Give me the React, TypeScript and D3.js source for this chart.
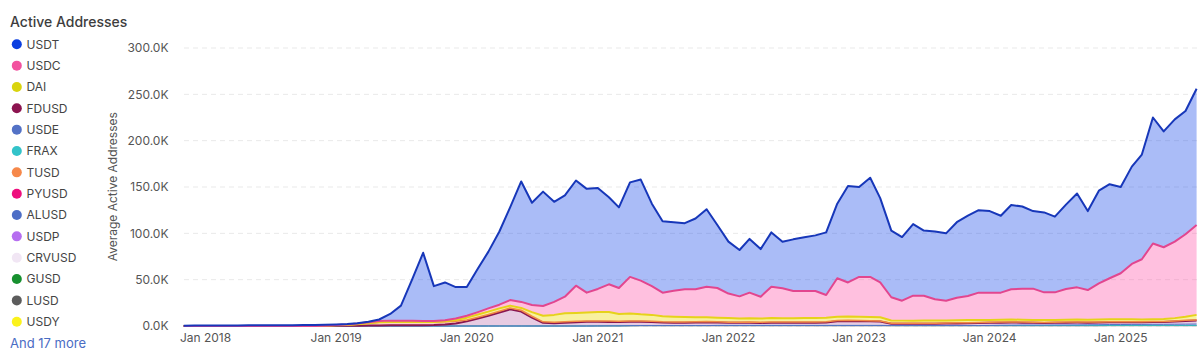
import React from "react";
import * as d3 from "d3";

// Monthly data, Nov 2017 .. Aug 2025 (values in thousands of addresses)
const START = new Date(2017, 10, 1);
const END_EXCL = new Date(2025, 8, 1);

const USDT = [
  0.4, 0.5, 0.5, 0.6, 0.6, 0.6, 0.7, 0.7, 0.8, 0.8, 0.9, 1.0, 1.1,
  0.9, 0.6, 0.5, 0.4, 0.6, 1.7, 7.2, 16.2, 44.4, 73.6, 37.6, 40.8, 34,
  31, 47, 61, 79, 100, 130, 110.3, 123.4, 108, 109.4, 113.5, 112,
  109, 94, 87, 102, 109, 89, 77, 74, 71.4, 76.4, 83.6, 68,
  56, 50, 58, 51.4, 58.6, 50.3, 55.7, 57.9, 60, 67.5, 80.5, 104,
  97, 107, 91, 72, 68.7, 77.3, 70.3, 73.2, 72.7, 81.5, 86.6, 89,
  88, 83, 91, 88.7, 83.7, 86.3, 81.7, 91, 101.3, 85.2, 100, 101.5,
  93.1, 105, 113, 136, 125, 132, 133, 147,
];
const USDC = [
  0, 0, 0, 0, 0, 0, 0, 0, 0, 0, 0, 0, 0,
  0.1, 0.2, 0.4, 0.6, 1.0, 1.3, 1.5, 1.3, 1.2, 1.1, 1.0, 1.0, 1.5,
  2, 2.5, 3.5, 4, 6, 6.5, 7.7, 10.6, 14, 17.9, 29.5, 21.5,
  25, 30, 28, 39.5, 36.4, 31, 25.5, 28, 30, 30.2, 33, 32,
  26.5, 23.8, 27.7, 23.6, 33.9, 32.4, 29.5, 29.3, 29.2, 24.5, 41.5, 36.8,
  43, 43.2, 37.5, 25, 21.5, 26.9, 26.8, 22.8, 21.3, 24.3, 26, 29.5,
  29.4, 29.2, 32.6, 33.5, 33.8, 29.9, 29.8, 33.2, 34.7, 32, 39, 44.2,
  49.6, 59.8, 65, 81.8, 77.5, 82.5, 89, 97,
];
const DAI = [
  0, 0, 0, 0, 0, 0, 0, 0, 0, 0, 0, 0, 0,
  0, 0, 0, 0, 0, 0, 0, 0, 0, 0, 0.1, 0.6, 1.5,
  2.5, 3, 3, 3, 2.5, 2.5, 4.5, 6.5, 8, 9.2, 9, 9.1,
  9.5, 9.7, 7.9, 8.1, 7.1, 6.9, 5.9, 5.6, 5.2, 4.8, 4.6, 4.5,
  4.4, 4.1, 4.1, 4.0, 4.2, 4.1, 4.1, 4.2, 4.3, 4.5, 4.1, 4.1,
  4.1, 4.1, 4.0, 3.0, 2.9, 2.9, 2.9, 2.9, 2.8, 2.8, 2.8, 2.7,
  2.6, 2.6, 2.6, 2.6, 2.5, 2.5, 2.5, 2.6, 2.7, 2.6, 2.6, 2.7,
  2.7, 2.6, 2.4, 2.4, 2.6, 3.1, 3.9, 5.4,
];
const TUSD = [
  0, 0, 0, 0, 0, 0, 0, 0, 0, 0, 0, 0, 0,
  0.2, 0.6, 0.9, 1.6, 2.5, 3.4, 3.6, 3.7, 3.6, 3.4, 3.3, 3.1, 2.2,
  1.5, 1.5, 1.5, 1.5, 1.5, 1.5, 1.5, 1.0, 1.0, 1.0, 1.0, 0.9,
  0.9, 0.9, 0.9, 0.9, 0.9, 0.8, 0.8, 0.8, 0.8, 0.8, 0.8, 0.8,
  0.7, 0.7, 0.7, 0.7, 0.7, 0.7, 0.7, 0.7, 0.7, 0.7, 0.7, 0.7,
  0.7, 0.7, 0.7, 0.6, 0.6, 0.6, 0.6, 0.6, 0.6, 0.6, 0.6, 0.6,
  0.6, 0.6, 0.6, 0.6, 0.6, 0.6, 0.6, 0.6, 0.6, 0.6, 0.6, 0.6,
  0.6, 0.6, 0.6, 0.6, 0.6, 0.6, 0.6, 0.6,
];
const FDUSD = [
  0, 0, 0, 0, 0, 0, 0, 0, 0, 0, 0, 0, 0,
  0.1, 0.2, 0.3, 0.4, 0.5, 0.6, 0.7, 0.8, 0.8, 0.9, 1.0, 1.5, 2.8,
  5, 8, 11, 14.5, 18, 15.5, 9, 3.5, 3.0, 3.5, 4, 4.5,
  4.5, 4.2, 4.0, 4.1, 4.1, 3.8, 3.3, 3.1, 3.1, 3.3, 3.5, 3.1,
  2.8, 2.8, 2.9, 2.7, 3.0, 2.9, 2.9, 3.0, 3.0, 3.2, 4.6, 4.8,
  4.6, 4.4, 4.2, 1.9, 1.8, 1.8, 1.9, 2.0, 2.1, 2.3, 2.5, 2.7,
  2.8, 2.8, 2.9, 2.6, 2.4, 2.3, 2.3, 2.5, 2.5, 2.3, 2.4, 2.4,
  2.4, 2.3, 2.3, 2.4, 2.5, 2.9, 3.5, 3.9,
];
const USDE = [
  0, 0, 0, 0, 0, 0, 0, 0, 0, 0, 0, 0, 0,
  0, 0, 0, 0, 0, 0, 0, 0, 0, 0, 0, 0, 0,
  0, 0, 0, 0, 0, 0, 0, 0, 0, 0, 0, 0,
  0, 0, 0, 0, 0, 0, 0, 0, 0, 0, 0, 0,
  0, 0, 0, 0, 0, 0, 0, 0, 0, 0, 0, 0,
  0, 0, 0, 0, 0, 0, 0, 0, 0, 0, 0, 0,
  0.1, 0.3, 0.4, 0.5, 0.5, 0.5, 0.6, 0.6, 0.7, 0.8, 0.9, 1.0,
  1.0, 1.1, 1.1, 1.2, 1.2, 1.3, 1.4, 1.5,
];
const FRAX = [
  0, 0, 0, 0, 0, 0, 0, 0, 0, 0, 0, 0, 0,
  0, 0, 0, 0, 0, 0, 0, 0, 0, 0, 0, 0, 0,
  0, 0, 0, 0, 0, 0, 0, 0, 0, 0, 0, 0,
  0.1, 0.2, 0.2, 0.3, 0.3, 0.3, 0.3, 0.3, 0.3, 0.3, 0.3, 0.4,
  0.4, 0.4, 0.4, 0.4, 0.4, 0.4, 0.4, 0.4, 0.4, 0.4, 0.4, 0.4,
  0.4, 0.4, 0.4, 0.3, 0.3, 0.3, 0.3, 0.3, 0.3, 0.3, 0.3, 0.3,
  0.3, 0.3, 0.3, 0.3, 0.3, 0.3, 0.3, 0.3, 0.3, 0.3, 0.3, 0.3,
  0.3, 0.3, 0.3, 0.3, 0.3, 0.3, 0.3, 0.3,
];
const LUSD = [
  0, 0, 0, 0, 0, 0, 0, 0, 0, 0, 0, 0, 0,
  0, 0, 0, 0, 0, 0, 0, 0, 0, 0, 0, 0, 0,
  0, 0, 0, 0, 0, 0, 0, 0, 0, 0, 0, 0,
  0, 0, 0, 0.1, 0.2, 0.2, 0.2, 0.2, 0.2, 0.2, 0.2, 0.2,
  0.2, 0.2, 0.2, 0.2, 0.2, 0.2, 0.2, 0.2, 0.2, 0.2, 0.2, 0.2,
  0.2, 0.2, 0.2, 0.2, 0.2, 0.2, 0.2, 0.2, 0.2, 0.2, 0.2, 0.2,
  0.2, 0.2, 0.2, 0.2, 0.2, 0.2, 0.2, 0.2, 0.2, 0.2, 0.2, 0.3,
  0.3, 0.3, 0.3, 0.3, 0.3, 0.3, 0.3, 0.3,
];

const LEGEND_NAMES = [
  "USDT", "USDC", "DAI", "FDUSD", "USDE", "FRAX", "TUSD",
  "PYUSD", "ALUSD", "USDP", "CRVUSD", "GUSD", "LUSD", "USDY",
];
const LEGEND_COLORS = [
  "#0b3fe0", "#f2529f", "#d9d40e", "#8c1450", "#5372c6", "#33c3c9", "#f6884a",
  "#ee0f7e", "#4d6ec6", "#b66ef0", "#f1e6f4", "#17902f", "#5c5c5c", "#fbf21c",
];
const MORE_LABEL = "And 17 more";
const Y_TICKS = [0, 50, 100, 150, 200, 250, 300];
const X_TICK_YEARS = [2018, 2019, 2020, 2021, 2022, 2023, 2024, 2025];

// stack order bottom -> top
const STACK_KEYS = ["LUSD", "FRAX", "USDE", "FDUSD", "TUSD", "DAI", "USDC", "USDT"];
const SERIES: Record<string, number[]> = { USDT, USDC, DAI, FDUSD, TUSD, USDE, FRAX, LUSD };

const STYLE: Record<string, { line: string; fill: string; op: number; w: number }> = {
  USDT: { line: "#1737b9", fill: "#1446e8", op: 0.36, w: 2 },
  USDC: { line: "#e2468f", fill: "#ff4fa6", op: 0.36, w: 2 },
  DAI: { line: "#e6d21a", fill: "#eedd10", op: 0.4, w: 2 },
  TUSD: { line: "#f18a45", fill: "#f6884a", op: 0.35, w: 1.5 },
  FDUSD: { line: "#8a1650", fill: "#a0308a", op: 0.25, w: 2 },
  USDE: { line: "#5372c6", fill: "#5372c6", op: 0.3, w: 1 },
  FRAX: { line: "#33b8c0", fill: "#33c3c9", op: 0.3, w: 1 },
  LUSD: { line: "#777777", fill: "#999999", op: 0.3, w: 1 },
};

const FONT = "Inter, 'Noto Sans', sans-serif";

export default function App() {
  const W = 1198, H = 354;
  const months = d3.timeMonth.range(START, END_EXCL);
  const rows = months.map((m, i) => {
    const r: any = { date: m };
    STACK_KEYS.forEach((k) => (r[k] = SERIES[k][i]));
    return r;
  });
  const stacked = d3.stack<any>().keys(STACK_KEYS)(rows);

  const x = d3.scaleTime().domain([months[0], months[months.length - 1]]).range([183.7, 1196.6]);
  const y = d3.scaleLinear().domain([0, 300]).range([326, 48]);

  const area = d3
    .area<any>()
    .x((d) => x(d.data.date))
    .y0((d) => y(d[0]))
    .y1((d) => y(d[1]));
  const line = d3
    .line<any>()
    .x((d) => x(d.data.date))
    .y((d) => y(d[1]));

  const legendY0 = 44.3;
  const legendStep = 21.34;

  return (
    <div style={{ position: "fixed", left: 0, top: 0 }}>
      <svg width={W} height={H} style={{ display: "block", background: "#fff" }}>
        <text x={10} y={26.5} fontFamily={FONT} fontSize={14} fontWeight={500} fill="#3d3d3d">
          Active Addresses
        </text>
        {LEGEND_NAMES.map((n, i) => (
          <g key={n}>
            <circle cx={16.8} cy={legendY0 + i * legendStep} r={5} fill={LEGEND_COLORS[i]} />
            <text
              x={26.5}
              y={legendY0 + i * legendStep + 4.3}
              fontFamily={FONT}
              fontSize={12}
              fill="#444"
            >
              {n}
            </text>
          </g>
        ))}
        <text x={10} y={348} fontFamily={FONT} fontSize={13} fill="#4a6cc4">
          {MORE_LABEL}
        </text>

        <text
          transform={`translate(117,186.7) rotate(-90)`}
          textAnchor="middle"
          fontFamily={FONT}
          fontSize={12}
          fill="#555"
        >
          Average Active Addresses
        </text>

        {Y_TICKS.map((t) => (
          <g key={t}>
            <line
              x1={184}
              x2={1198}
              y1={y(t)}
              y2={y(t)}
              stroke="#e9e9e9"
              strokeDasharray="5 4"
            />
            <text
              x={168.5}
              y={y(t) + 4.2}
              textAnchor="end"
              fontFamily={FONT}
              fontSize={12}
              fill="#555"
            >
              {t.toFixed(1) + "K"}
            </text>
          </g>
        ))}

        {X_TICK_YEARS.map((yr) => (
          <text
            key={yr}
            x={x(new Date(yr, 0, 1))}
            y={341.5}
            textAnchor="middle"
            fontFamily={FONT}
            fontSize={12}
            fill="#555"
          >
            {"Jan " + yr}
          </text>
        ))}

        {stacked.map((s) => (
          <path
            key={"a" + s.key}
            d={area(s) || ""}
            fill={STYLE[s.key].fill}
            fillOpacity={STYLE[s.key].op}
            stroke="none"
          />
        ))}
        {stacked.map((s) => (
          <path
            key={"l" + s.key}
            d={line(s) || ""}
            fill="none"
            stroke={STYLE[s.key].line}
            strokeWidth={STYLE[s.key].w}
            strokeLinejoin="round"
          />
        ))}
      </svg>
    </div>
  );
}
